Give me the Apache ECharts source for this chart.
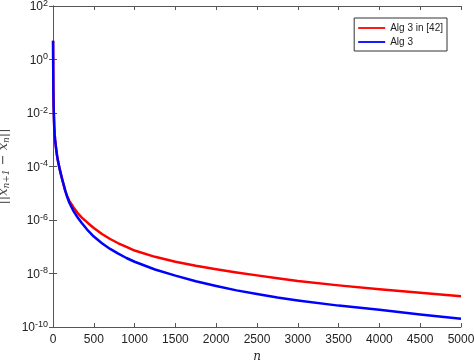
<!DOCTYPE html>
<html>
<head>
<meta charset="utf-8">
<script src="https://cdn.jsdelivr.net/npm/echarts@6/dist/echarts.min.js"></script>
<style>html,body{margin:0;padding:0;background:#fff}#c{width:474px;height:362px}</style>
</head>
<body>
<div id="c"></div>
<script>
const seriesNames = ['Alg 3 in [42]', 'Alg 3'];
const nRed = [1, 2, 3, 5, 8, 10, 15, 20, 25, 30, 40, 50, 60, 75, 90, 110, 130, 150, 170, 200, 250, 300, 350, 430, 500, 600, 700, 800, 900, 1000, 1250, 1500, 1750, 2000, 2250, 2500, 2750, 3000, 3500, 4000, 4500, 5000];
const redValues = [5.0, 1.26, 0.316, 0.063, 0.0158, 0.01, 3.16e-3, 1.58e-3, 1.05e-3, 7.6e-4, 4.2e-4, 2.5e-4, 1.66e-4, 1.0e-4, 6.3e-5, 3.55e-5, 2.1e-5, 1.26e-5, 8.3e-6, 5.2e-6, 3.0e-6, 1.86e-6, 1.26e-6, 7.6e-7, 5.0e-7, 3.0e-7, 1.95e-7, 1.35e-7, 9.8e-8, 7.2e-8, 4.2e-8, 2.75e-8, 1.95e-8, 1.45e-8, 1.1e-8, 8.5e-9, 6.6e-9, 5.2e-9, 3.6e-9, 2.6e-9, 1.9e-9, 1.41e-9];
const nBlue = [1, 2, 3, 5, 8, 10, 15, 20, 25, 30, 40, 50, 60, 75, 90, 110, 130, 150, 170, 200, 250, 300, 350, 430, 500, 600, 700, 800, 900, 1000, 1250, 1500, 1750, 2000, 2250, 2500, 2750, 3000, 3500, 4000, 4500, 5000];
const blueValues = [5.0, 1.26, 0.316, 0.063, 0.0158, 0.01, 3.16e-3, 1.58e-3, 1.05e-3, 7.6e-4, 4.2e-4, 2.5e-4, 1.66e-4, 1.0e-4, 6.3e-5, 3.55e-5, 2.1e-5, 1.26e-5, 7.9e-6, 4.4e-6, 2.2e-6, 1.26e-6, 7.9e-7, 3.98e-7, 2.4e-7, 1.35e-7, 8.3e-8, 5.5e-8, 3.8e-8, 2.75e-8, 1.41e-8, 8.3e-9, 5.1e-9, 3.4e-9, 2.34e-9, 1.7e-9, 1.26e-9, 9.8e-10, 6.3e-10, 4.4e-10, 2.95e-10, 2.04e-10];
const xTicks = [0, 500, 1000, 1500, 2000, 2500, 3000, 3500, 4000, 4500, 5000];
const yExponents = [-10, -8, -6, -4, -2, 0, 2];

const axisColor = '#555';
const textColor = '#222';
const chart = echarts.init(document.getElementById('c'));
const pairs = (xs, ys) => xs.map((x, i) => [x, ys[i]]);
const yLabel = v => {
  const e = Math.round(Math.log10(v));
  return '{b|10}{s|' + e + '}';
};
const yRich = {
  b: {fontFamily: 'Liberation Sans, Arial', fontSize: 12, color: textColor, verticalAlign: 'bottom', lineHeight: 14},
  s: {fontFamily: 'Liberation Sans, Arial', fontSize: 9, color: textColor, verticalAlign: 'top', padding: [0, 0, 8, 0], lineHeight: 14}
};
chart.setOption({
  animation: false,
  backgroundColor: '#fff',
  grid: {left: 53, right: 13, top: 6, bottom: 35, containLabel: false, outerBoundsMode: 'none'},
  legend: {
    data: seriesNames,
    orient: 'vertical',
    right: 27, top: 18,
    backgroundColor: '#fff',
    borderColor: '#333', borderWidth: 1,
    padding: [5, 4, 4, 4],
    itemGap: 4,
    itemWidth: 27, itemHeight: 10,
    icon: 'path://M0,4 L30,4 L30,6 L0,6 Z',
    textStyle: {fontFamily: 'Liberation Sans, Arial', fontSize: 10, color: textColor}
  },
  xAxis: [{
    type: 'value', min: xTicks[0], max: xTicks[xTicks.length - 1], interval: 500,
    name: 'n', nameLocation: 'middle', nameGap: 24,
    nameTextStyle: {fontFamily: 'DejaVu Serif, Liberation Serif', fontStyle: 'italic', fontSize: 12, color: textColor},
    axisLine: {lineStyle: {color: axisColor, width: 1}},
    axisTick: {inside: true, length: 4, lineStyle: {color: axisColor}},
    axisLabel: {fontFamily: 'Liberation Sans, Arial', fontSize: 12, color: textColor, margin: 7, showMinLabel: true, showMaxLabel: true, formatter: v => String(v)},
    splitLine: {show: false}
  }, {
    type: 'value', position: 'top', min: xTicks[0], max: xTicks[xTicks.length - 1], interval: 500,
    axisLine: {lineStyle: {color: axisColor, width: 1}},
    axisTick: {inside: true, length: 4, lineStyle: {color: axisColor}},
    axisLabel: {show: false}, splitLine: {show: false}
  }],
  yAxis: [{
    type: 'log', logBase: 10, min: Math.pow(10, yExponents[0]), max: Math.pow(10, yExponents[yExponents.length - 1]), interval: 2,
    name: '{t|||x}{sub|n+1}{t| − x}{sub|n}{t|||}', nameLocation: 'middle', nameGap: 38, nameRotate: 90,
    nameTextStyle: {
      rich: {
        t: {fontFamily: 'DejaVu Serif, Liberation Serif', fontStyle: 'italic', fontSize: 13, color: '#444'},
        sub: {fontFamily: 'DejaVu Serif, Liberation Serif', fontStyle: 'italic', fontSize: 9, color: '#444', verticalAlign: 'bottom', padding: [6, 0, 0, 0]}
      }
    },
    axisLine: {show: true, lineStyle: {color: axisColor, width: 1}},
    axisTick: {show: true, inside: true, length: 4, lineStyle: {color: axisColor}},
    minorTick: {show: false},
    axisLabel: {formatter: yLabel, rich: yRich, margin: 5, showMinLabel: true, showMaxLabel: true},
    splitLine: {show: false}
  }, {
    type: 'log', logBase: 10, position: 'right', min: Math.pow(10, yExponents[0]), max: Math.pow(10, yExponents[yExponents.length - 1]), interval: 2,
    axisLine: {show: true, lineStyle: {color: axisColor, width: 1}},
    axisTick: {show: true, inside: true, length: 4, lineStyle: {color: axisColor}},
    axisLabel: {show: false}, splitLine: {show: false}
  }],
  series: [{
    name: seriesNames[0], type: 'line', data: pairs(nRed, redValues),
    showSymbol: false, smooth: false,
    lineStyle: {color: '#ff0000', width: 2.5, join: 'round'}, itemStyle: {color: '#ff0000'}
  }, {
    name: seriesNames[1], type: 'line', data: pairs(nBlue, blueValues),
    showSymbol: false, smooth: false,
    lineStyle: {color: '#0000ff', width: 2.5, join: 'round'}, itemStyle: {color: '#0000ff'}
  }]
});
</script>
</body>
</html>
